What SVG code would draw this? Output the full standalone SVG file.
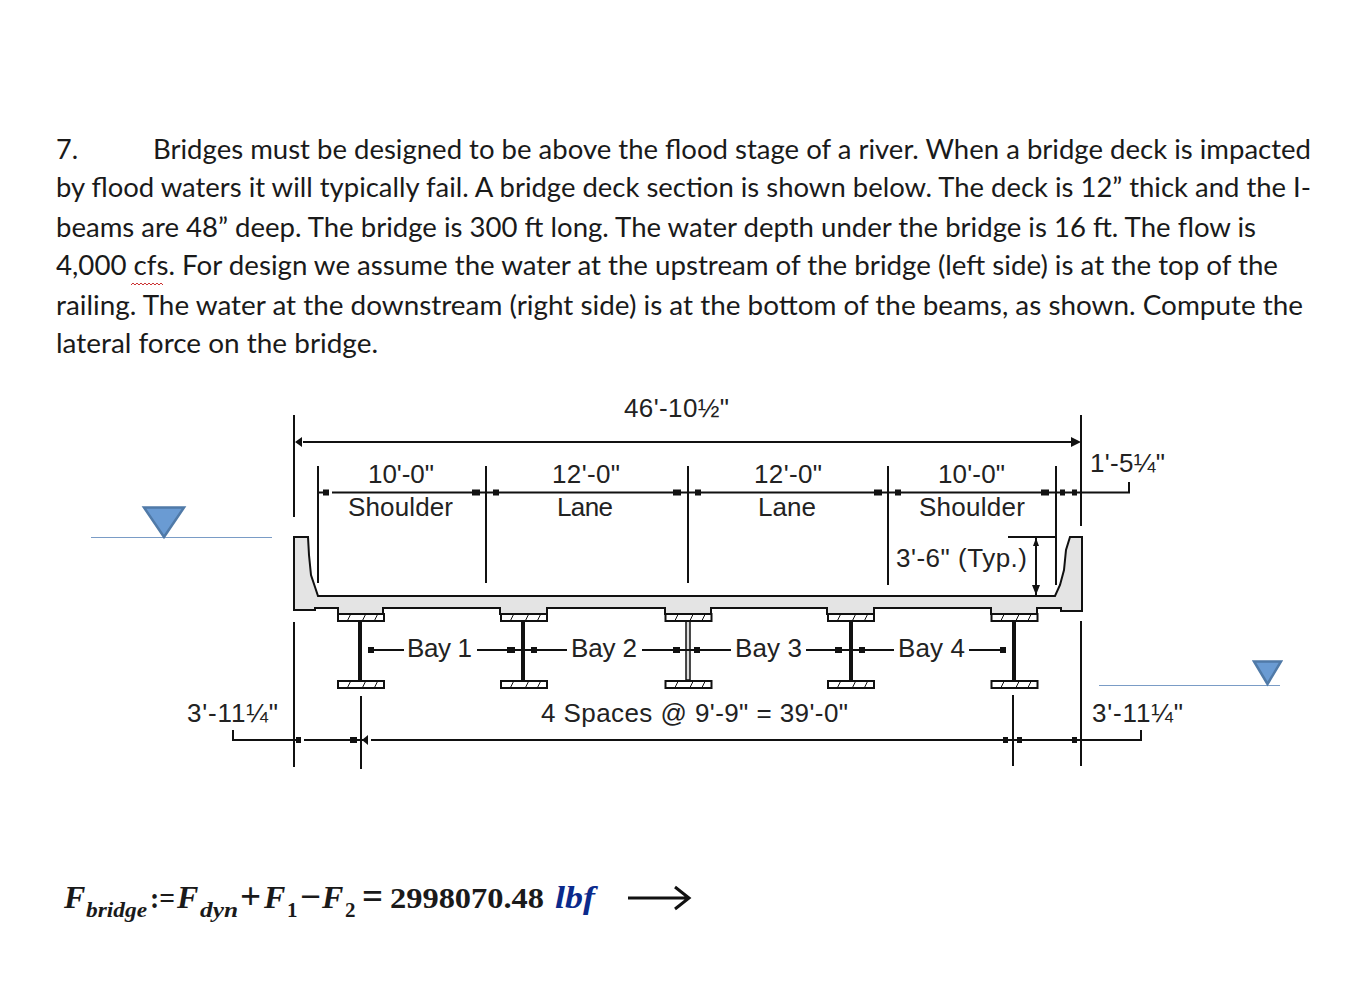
<svg xmlns="http://www.w3.org/2000/svg" width="1350" height="1004" viewBox="0 0 1350 1004">
<style>
.p{font-family:"Lato","Liberation Sans",sans-serif;font-size:27px;fill:#1a1a1a}
.l{font-family:"Liberation Sans",Arial,sans-serif;font-size:26px;fill:#222}
.m{font-family:"Liberation Serif","Times New Roman",serif;font-weight:bold;fill:#1a1a1a}
.i{font-style:italic}
.b{font-size:32px}
.s{font-size:21px}
.d{stroke:#111;stroke-width:2;fill:none}
.o{stroke:#111;stroke-width:2;fill:#e4e4e4}
.h{stroke:#111;stroke-width:1;fill:none}
.f{stroke:#111;stroke-width:2;fill:#fff}
.w{stroke:#7a9cc6;stroke-width:1;fill:none}
.t{fill:#6a9bd3;stroke:#507aa8;stroke-width:2.5}
</style>
<defs>
<g id="flange"><rect x="-22.500" y="0" width="46" height="7" class="f"/><path class="h" d="M-13 6.500l3-6M2 6.500l3-6M14 6.500l3-6"/></g>
</defs>
<rect width="1350" height="1004" fill="#fff"/>
<g id="problem-text">
<text class="p" x="56" y="159">7.</text>
<text class="p" x="153" y="159" textLength="1158" lengthAdjust="spacingAndGlyphs">Bridges must be designed to be above the flood stage of a river. When a bridge deck is impacted</text>
<text class="p" x="56" y="197" textLength="1255" lengthAdjust="spacingAndGlyphs">by flood waters it will typically fail. A bridge deck section is shown below. The deck is 12” thick and the I-</text>
<text class="p" x="56" y="237" textLength="1200" lengthAdjust="spacingAndGlyphs">beams are 48” deep. The bridge is 300 ft long. The water depth under the bridge is 16 ft. The flow is</text>
<text class="p" x="56" y="275" textLength="1222" lengthAdjust="spacingAndGlyphs">4,000 cfs. For design we assume the water at the upstream of the bridge (left side) is at the top of the</text>
<text class="p" x="56" y="315" textLength="1247" lengthAdjust="spacingAndGlyphs">railing. The water at the downstream (right side) is at the bottom of the beams, as shown. Compute the</text>
<text class="p" x="56" y="353" textLength="322" lengthAdjust="spacingAndGlyphs">lateral force on the bridge.</text>
<path d="M131 285l2-2 2 2 2-2 2 2 2-2 2 2 2-2 2 2 2-2 2 2 2-2 2 2 2-2 2 2 2-2 2 2" fill="none" stroke="#c33" stroke-width="1"/>
</g>
<g id="water-left"><path class="w" d="M91 537.500H272"/><path class="t" d="M144 507.500H184L164 537Z"/></g>
<g id="water-right"><path class="w" d="M1099 685.500H1280"/><path class="t" d="M1254 661.500H1281L1267.500 684Z"/></g>
<g id="deck"><path class="o" d="M294 537H308L309 555 311 575 315 587 318 596H1055L1060 585 1064 570 1066 550 1070 537H1082V611H1061V608H1037V614H991V608H874V614H827V608H711V614H665V608H547V614H500V608H383V614H338V608H315V610H294Z"/></g>
<g id="beam-1"><path d="M360 621V680" stroke="#111" stroke-width="4"/><use href="#flange" x="360.500" y="614"/><use href="#flange" x="360.500" y="681"/></g>
<g id="beam-2"><path d="M523 621V680" stroke="#111" stroke-width="4"/><use href="#flange" x="523.500" y="614"/><use href="#flange" x="523.500" y="681"/></g>
<g id="beam-3"><rect x="686" y="621" width="4" height="59" fill="#ddd" stroke="#111" stroke-width="1.500"/><use href="#flange" x="688" y="614"/><use href="#flange" x="688" y="681"/></g>
<g id="beam-4"><path d="M851 621V680" stroke="#111" stroke-width="4"/><use href="#flange" x="850.500" y="614"/><use href="#flange" x="850.500" y="681"/></g>
<g id="beam-5"><path d="M1014 621V680" stroke="#111" stroke-width="4"/><use href="#flange" x="1014" y="614"/><use href="#flange" x="1014" y="681"/></g>
<g id="connectors">
<path class="d" d="M294 415V517M1081 415V526M303 442H1075M318 466V583M486 466V583M688 466V583M888 466V585M1056 466V585"/>
<path d="M1081 442L1071 437V447ZM295 442L302 437V447Z" fill="#111"/>
<path class="d" d="M318 492.500H329M332 492.500H1129V482"/>
<g fill="#111"><rect x="323" y="489.500" width="6" height="6"/><rect x="472" y="489.500" width="8" height="6"/><rect x="493" y="489.500" width="6" height="6"/><rect x="673" y="489.500" width="8" height="6"/><rect x="695" y="489.500" width="6" height="6"/><rect x="874" y="489.500" width="8" height="6"/><rect x="895" y="489.500" width="6" height="6"/><rect x="1041" y="489.500" width="8" height="6"/><rect x="1060" y="489.500" width="5" height="6"/><rect x="1072" y="489.500" width="5" height="6"/></g>
<path class="d" d="M1008 537H1056M1036 537V595"/>
<path d="M1036 538L1033 546H1039ZM1036 595L1032 585H1040Z" fill="#111"/>
<path class="d" d="M374 650H404M477 650H567M642 650H731M806 650H894M969 650H1006"/>
<g fill="#111"><rect x="368" y="647" width="6" height="6"/><rect x="507" y="647" width="8" height="6"/><rect x="531" y="647" width="6" height="6"/><rect x="673" y="647" width="7" height="6"/><rect x="694" y="647" width="6" height="6"/><rect x="835" y="647" width="7" height="6"/><rect x="859" y="647" width="6" height="6"/><rect x="1000" y="647" width="6" height="6"/></g>
<path class="d" d="M294 622V767M361 696V769M1013 695V766M1081 621V766M233 730V740H301M304 740H366M371 740H1141V730"/>
<g fill="#111"><rect x="296" y="737" width="5" height="6"/><rect x="350" y="737" width="7" height="6"/><path d="M362 740L368 735V745Z"/><rect x="1003" y="737" width="5" height="6"/><rect x="1017" y="737" width="5" height="6"/><rect x="1072" y="737" width="5" height="6"/></g>
</g>
<g id="labels">
<text class="l" x="624" y="417" textLength="105">46'-10½"</text>
<text class="l" x="368" y="483" textLength="66">10'-0"</text>
<text class="l" x="348" y="516" textLength="105">Shoulder</text>
<text class="l" x="552" y="483" textLength="68">12'-0"</text>
<text class="l" x="557" y="516" textLength="56">Lane</text>
<text class="l" x="754" y="483" textLength="68">12'-0"</text>
<text class="l" x="758" y="516" textLength="58">Lane</text>
<text class="l" x="938" y="483" textLength="67">10'-0"</text>
<text class="l" x="919" y="516" textLength="106">Shoulder</text>
<text class="l" x="1090" y="472" textLength="75">1'-5¼"</text>
<text class="l" x="896" y="567" textLength="131">3'-6" (Typ.)</text>
<text class="l" x="407" y="657" textLength="65">Bay 1</text>
<text class="l" x="571" y="657" textLength="66">Bay 2</text>
<text class="l" x="735" y="657" textLength="67">Bay 3</text>
<text class="l" x="898" y="657" textLength="67">Bay 4</text>
<text class="l" x="541" y="722" textLength="307">4 Spaces @ 9'-9" = 39'-0"</text>
<text class="l" x="187" y="722" textLength="91">3'-11¼"</text>
<text class="l" x="1092" y="722" textLength="91">3'-11¼"</text>
</g>
<g id="equation">
<text class="m i b" x="64" y="908">F</text>
<text class="m i s" x="86" y="917" textLength="61" lengthAdjust="spacingAndGlyphs">bridge</text>
<text class="m" x="150" y="908" font-size="30" textLength="25" lengthAdjust="spacingAndGlyphs">:=</text>
<text class="m i b" x="177" y="908">F</text>
<text class="m i s" x="200" y="917" textLength="38" lengthAdjust="spacingAndGlyphs">dyn</text>
<text class="m" x="240" y="909" font-size="37">+</text>
<text class="m i b" x="264" y="908">F</text>
<text class="m s" x="287" y="917">1</text>
<text class="m" x="300" y="909" font-size="37">−</text>
<text class="m i b" x="322" y="908">F</text>
<text class="m s" x="345" y="917">2</text>
<text class="m" x="362" y="909" font-size="37">=</text>
<text class="m" x="390" y="908" font-size="30" textLength="154" lengthAdjust="spacingAndGlyphs">2998070.48</text>
<text class="m i" x="555" y="908" font-size="31" style="fill:#0b2a8c" textLength="40" lengthAdjust="spacingAndGlyphs">lbf</text>
<path d="M628 898H689M675 887L689 898 675 909" fill="none" stroke="#111" stroke-width="3"/>
</g>
</svg>
